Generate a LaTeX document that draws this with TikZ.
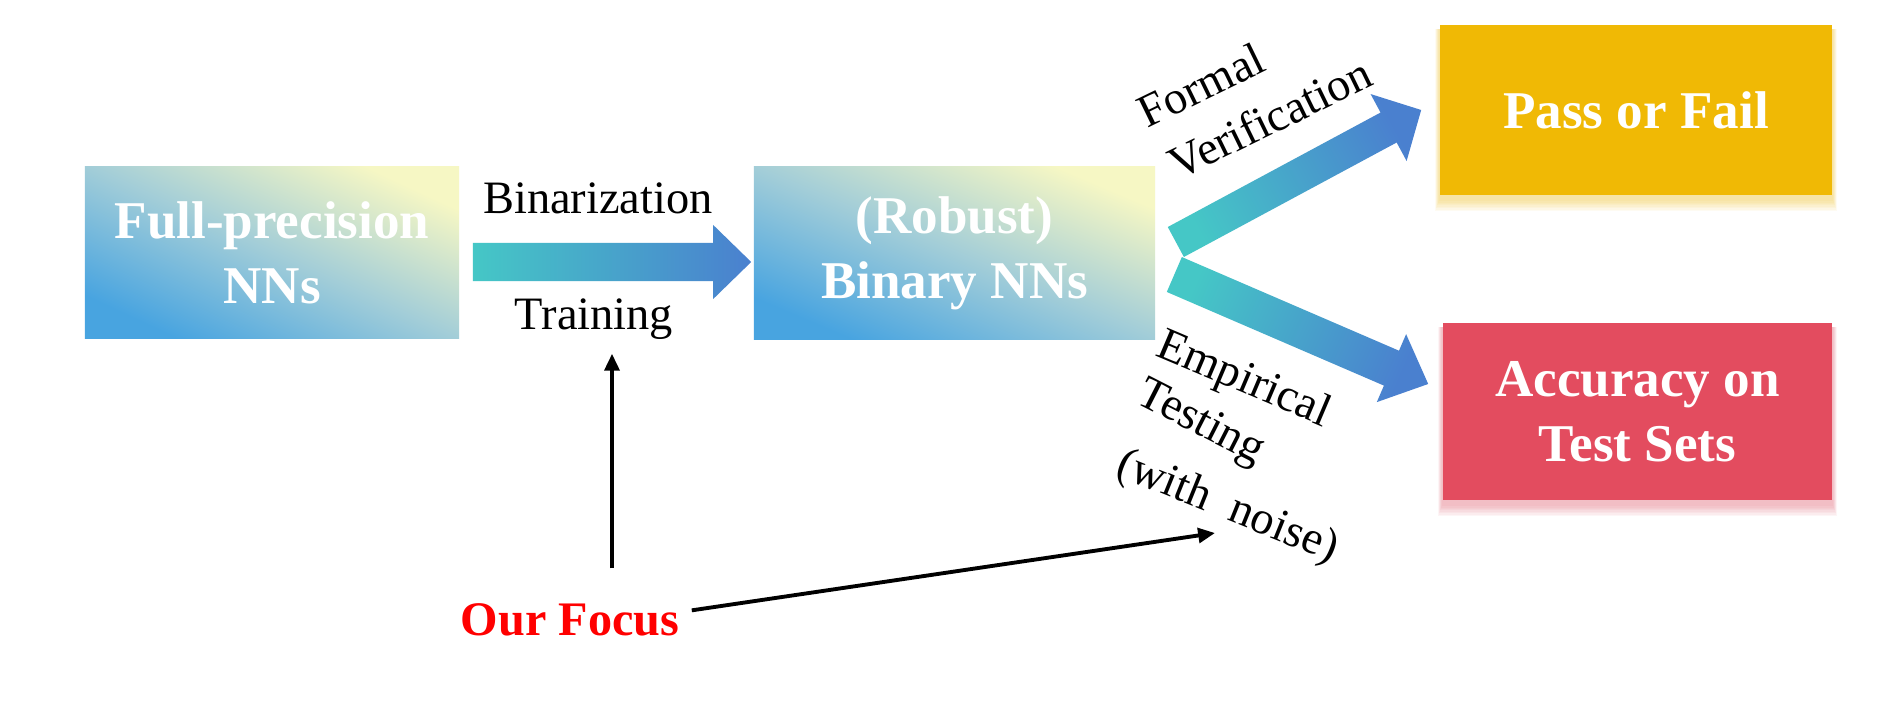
\documentclass[tikz,border=0pt]{standalone}
\usepackage{fontspec}
\setmainfont{Liberation Serif}
\usetikzlibrary{calc,arrows.meta}
\pgfdeclarelayer{background}
\pgfsetlayers{background,main}
\definecolor{gBlue}{HTML}{48A4E0}
\definecolor{gMid}{HTML}{A2CDD8}
\definecolor{gYel}{HTML}{F6F7C4}
\definecolor{aTeal}{HTML}{45C7C6}
\definecolor{aBlue}{HTML}{4A80CF}
\definecolor{passY}{HTML}{F0B905}
\definecolor{accR}{HTML}{E34C5F}
\definecolor{focusR}{HTML}{FF0000}
\newcommand\fatarr[6]{%
  \coordinate (fh) at ($(#2)!#5!(#1)$);
  \shade[shading=axis, top color=aBlue, bottom color=aTeal, shading angle=#6]
    ($(#1)!#3!90:(#2)$) -- ($(fh)!#3!-90:(#1)$) -- ($(fh)!#4!-90:(#1)$) -- (#2)
    -- ($(fh)!#4!90:(#1)$) -- ($(fh)!#3!90:(#1)$) -- ($(#1)!#3!-90:(#2)$) -- cycle;}
\begin{document}
\begin{tikzpicture}[x=0.01cm,y=-0.01cm,
  gradbox/.style={rectangle, inner sep=0, top color=gYel, bottom color=gBlue, middle color=gMid, shading angle=-25,
    text=white, font=\fontsize{15.1}{18.5}\selectfont\bfseries, align=center},
  flatbox/.style={rectangle, inner sep=0, text=white, font=\fontsize{15.1}{18.5}\selectfont\bfseries, align=center},
  lbl/.style={inner sep=0, font=\fontsize{13.2}{16}\selectfont},
  focusst/.style={inner sep=0, text=focusR, font=\fontsize{13.7}{16}\selectfont\bfseries},
  blk/.style={-{Triangle[length=4.8pt,width=4.2pt]}, line width=1.1pt}]
\useasboundingbox (0,0) rectangle (1904,704);
% boxes
\node[gradbox, minimum width=3.74cm, minimum height=1.71cm] (b1) at (272,252.5) {Full-precision\\NNs};
\node[gradbox, shading angle=-23, minimum width=4.01cm, minimum height=1.72cm] (b2) at (954.5,253) {(Robust)\\Binary NNs};
\node[flatbox, fill=passY, minimum width=3.92cm, minimum height=1.70cm] (b3) at (1636,110) {Pass or Fail};
\node[flatbox, fill=accR, minimum width=3.89cm, minimum height=1.77cm] (b4) at (1637.5,411.5) {Accuracy on\\Test Sets};
% background and soft shadows
\begin{pgfonlayer}{background}
  \fill[white] (0,0) rectangle (1904,704);
  \foreach \k in {1,...,8} {
    \fill[passY, opacity=0.05] ($(b3.north west)+(-\k*0.5,5)$) rectangle ($(b3.south east)+(\k*0.5,4+\k*1.4)$);
    \fill[accR, opacity=0.05] ($(b4.north west)+(-\k*0.5,5)$) rectangle ($(b4.south east)+(\k*0.5,4+\k*1.4)$);
  }
\end{pgfonlayer}
% labels
\node[lbl, anchor=base] (bin) at (598,214) {Binarization};
\node[lbl, anchor=base] (train) at (594,330) {Training};
\node[focusst, anchor=base] (focus) at (570,635) {Our Focus};
\node[lbl, rotate=26] (formal) at (1201,85) {Formal};
\node[lbl, rotate=26] (verif) at (1270,118) {Verification};
\node[lbl, rotate=-23] (emp) at (1243,381) {Empirical};
\node[lbl, rotate=-27] (test) at (1200,424) {Testing};
\node[lbl, rotate=-22] (noise) at (1227,508) {(with~~noise)};
% fat gradient arrows
\coordinate (a1t) at ($(b1.east)+(13,9.5)$);
\coordinate (a1p) at ($(b2.west)+(-2,9)$);
\fatarr{a1t}{a1p}{0.19cm}{0.37cm}{0.38cm}{-90}
\coordinate (a2t) at ($(b2.east)+(20,-11)$);
\coordinate (a2p) at ($(b3.west)+(-18,0)$);
\fatarr{a2t}{a2p}{0.17cm}{0.38cm}{0.37cm}{-62}
\coordinate (a3t) at ($(b2.east)+(18.5,21.5)$);
\coordinate (a3p) at ($(b4.west)+(-14,-27.5)$);
\fatarr{a3t}{a3p}{0.19cm}{0.37cm}{0.40cm}{-113}
% black arrows
\coordinate (vline) at (612,0);
\draw[blk, shorten <=0.34cm, shorten >=0.13cm] (focus.north -| vline) -- (train.south -| vline);
\coordinate (noiseTip) at (1215,533);
\draw[blk] ($(focus.east)+(12,-9)$) -- (noiseTip);
\end{tikzpicture}
\end{document}
